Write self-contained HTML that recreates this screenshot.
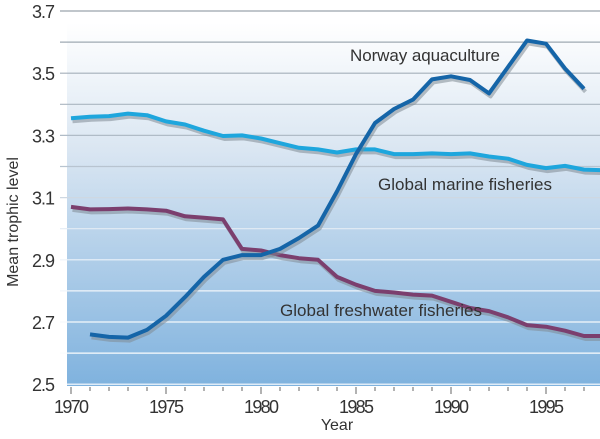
<!DOCTYPE html>
<html><head><meta charset="utf-8"><style>
html,body{margin:0;padding:0;background:#fff;}
svg text{font-family:"Liberation Sans",Arial,sans-serif;fill:#333;}
</style></head><body>
<svg id="chart" width="600" height="434" viewBox="0 0 600 434" xmlns="http://www.w3.org/2000/svg">
<defs>
<linearGradient id="bg" x1="0" y1="0" x2="0" y2="1">
<stop offset="0" stop-color="#ffffff"/>
<stop offset="0.35" stop-color="#dae6f2"/>
<stop offset="1" stop-color="#7fb2de"/>
</linearGradient>
<linearGradient id="gl" gradientUnits="userSpaceOnUse" x1="0" y1="11" x2="0" y2="384">
<stop offset="0" stop-color="#9aa4ac"/>
<stop offset="0.4" stop-color="#b4c0cc"/>
<stop offset="0.6" stop-color="#e8f0f8"/>
<stop offset="1" stop-color="#ffffff"/>
</linearGradient>
</defs>
<rect x="67" y="23" width="533" height="363" fill="url(#bg)"/>
<g id="grid"></g>
<g id="axes"></g>
<g id="series"></g>
<text transform="translate(18,222) rotate(-90)" text-anchor="middle" font-size="16">Mean trophic level</text>
<text x="337" y="430" text-anchor="middle" font-size="16">Year</text>
<text x="350" y="61" font-size="17" textLength="150">Norway aquaculture</text>
<text x="378" y="190" font-size="17" textLength="174">Global marine fisheries</text>
<text x="280" y="316" font-size="17" textLength="202">Global freshwater fisheries</text>
</svg>
<script>
const yTicks = [2.5, 2.7, 2.9, 3.1, 3.3, 3.5, 3.7];
const xTicks = [1970, 1975, 1980, 1985, 1990, 1995];
const norwayYears = [1971,1972,1973,1974,1975,1976,1977,1978,1979,1980,1981,1982,1983,1984,1985,1986,1987,1988,1989,1990,1991,1992,1993,1994,1995,1996,1997];
const norwayValues = [2.66,2.652,2.65,2.675,2.72,2.78,2.845,2.90,2.915,2.915,2.935,2.97,3.01,3.12,3.24,3.34,3.385,3.415,3.48,3.49,3.478,3.435,3.52,3.605,3.595,3.515,3.45];
const fishYears = [1970,1971,1972,1973,1974,1975,1976,1977,1978,1979,1980,1981,1982,1983,1984,1985,1986,1987,1988,1989,1990,1991,1992,1993,1994,1995,1996,1997,1998];
const marineValues = [3.355,3.36,3.362,3.37,3.365,3.345,3.335,3.315,3.298,3.30,3.29,3.275,3.26,3.255,3.245,3.255,3.255,3.24,3.24,3.242,3.24,3.242,3.232,3.225,3.205,3.195,3.202,3.19,3.188];
const freshValues = [3.07,3.062,3.063,3.065,3.062,3.058,3.04,3.035,3.03,2.935,2.93,2.915,2.905,2.90,2.845,2.82,2.80,2.795,2.788,2.785,2.765,2.745,2.735,2.715,2.69,2.685,2.672,2.655,2.655];

const NS = "http://www.w3.org/2000/svg";
const xs = yr => 71 + (yr - 1970) * 19;
const ys = v => 11 + (3.7 - v) * 311;
function mk(tag, attrs, parent) {
  const e = document.createElementNS(NS, tag);
  for (const k in attrs) e.setAttribute(k, attrs[k]);
  parent.appendChild(e);
  return e;
}
const grid = document.getElementById('grid');
const axes = document.getElementById('axes');
const series = document.getElementById('series');
for (let i = 0; i <= 12; i++) {
  const v = 2.5 + i * 0.1;
  const l = mk('line', {x1: 60, x2: 600, y1: ys(v), y2: ys(v), stroke: 'url(#gl)', 'stroke-width': 1.2}, grid);
  
  
}
yTicks.forEach(v => {
  const t = mk('text', {x: 55, y: ys(v) + 7, 'text-anchor': 'end', 'font-size': 18, textLength: 23}, axes);
  t.textContent = v.toFixed(1);
  
  
});
for (let yr = 1970; yr <= 1998; yr++) {
  const big = yr % 5 === 0;
  const tk = mk('line', {x1: xs(yr), x2: xs(yr), y1: 387, y2: big ? 394 : 391, stroke: '#666', 'stroke-width': 1}, axes);
  
  
}
xTicks.forEach(yr => {
  const t = mk('text', {x: xs(yr) - 17, y: 413, 'font-size': 18, textLength: 35}, axes);
  t.textContent = yr;
  
  
});
function drawLine(years, vals, color, name) {
  const d = years.map((y, i) => (i ? 'L' : 'M') + xs(y).toFixed(1) + ',' + ys(vals[i]).toFixed(1)).join(' ');
  const sh = mk('path', {d: d, fill: 'none', stroke: '#7f8a94', 'stroke-opacity': 0.55, 'stroke-width': 4, 'stroke-linejoin': 'round', transform: 'translate(1.5,3)'}, series);
  
  
  const p = mk('path', {d: d, fill: 'none', stroke: color, 'stroke-width': 4, 'stroke-linejoin': 'round'}, series);
  
  
}
drawLine(fishYears, marineValues, '#1ea6dd', 'global-marine-fisheries');
drawLine(fishYears, freshValues, '#7b3f6e', 'global-freshwater-fisheries');
drawLine(norwayYears, norwayValues, '#1565a8', 'norway-aquaculture');
</script>
</body></html>
